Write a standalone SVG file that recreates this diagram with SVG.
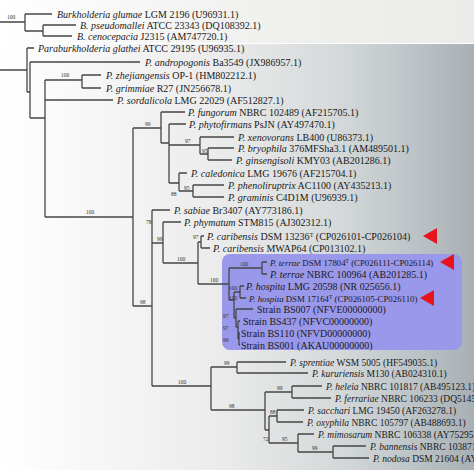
<svg xmlns="http://www.w3.org/2000/svg" width="474" height="474" viewBox="0 0 474 474">
<defs>
<linearGradient id="bgTop" x1="0" y1="0" x2="1" y2="0">
<stop offset="0" stop-color="#ffffff"/><stop offset="0.5" stop-color="#f1f1f0"/><stop offset="1" stop-color="#ebebea"/>
</linearGradient>
<linearGradient id="bgMain" x1="0" y1="0" x2="1" y2="0">
<stop offset="0" stop-color="#ffffff"/><stop offset="0.45" stop-color="#ececec"/><stop offset="0.7" stop-color="#d6dadb"/><stop offset="0.85" stop-color="#c0c7ca"/><stop offset="1" stop-color="#a8b0b5"/>
</linearGradient>
<style>
.t{font-family:"Liberation Serif","Times New Roman",serif;font-size:10px;fill:#1a1a1a}
.s{font-size:8.8px}
.l{font-size:9.5px}
.i{font-style:italic}
.b{font-family:"Liberation Serif","Times New Roman",serif;font-size:5.5px;fill:#333}
.e{fill:none;stroke:#454545;stroke-width:1.3}
.m{fill:#e8141c}
</style>
</defs>
<rect x="0" y="0" width="474" height="43" fill="url(#bgTop)"/>
<rect x="0" y="44" width="474" height="426" fill="url(#bgMain)"/>
<rect x="222" y="254" width="240" height="96" rx="8" fill="#9a98ea"/>
<g id="connectors" class="e">
<path d="M0 22H25M25 14V31M25 14H52M25 31H43M43 25V36M43 25H76M43 36H72"/>
<path d="M0 70H27M27 48V92M27 48H34M27 92H30M30 62V118M30 62H140M30 118H45M45 80V217M45 80H82M82 75V88M82 75H101M82 88H101M45 100H113M45 217H133"/>
<path d="M133 128V306M133 128H161M161 112V143M161 112H185M161 143H169M169 124V183M169 124H186M169 145H200M200 137V154M200 137H234M200 154H208M208 148V160M208 148H234M208 160H232M169 183H179M179 173V191M179 173H187M179 191H193M193 185V197M193 185H224M193 197H224"/>
<path d="M133 306H152M152 210V386M152 210H170M152 243H163M163 222V263M163 222H181M163 263H198M198 242V284M198 242H201M201 236V248M201 236H204M201 248H210"/>
<path d="M198 284H229M229 268V300M229 268H262M262 262V274M262 262H267M262 274H267M229 300H234M234 292V318M234 292H240M240 286V298M240 286H244M240 298H246M234 318H236M236 309V327M236 309H253M236 327H238M238 321V339M238 321H240M238 339H239M239 333V345M239 333H240M239 345H240"/>
<path d="M152 386H211M211 367V410M211 367H237M237 362V373M237 362H286M237 373H308M211 410H265M265 392V430M265 392H292M292 386V398M292 386H322M292 398H331M265 430H269M269 416V443M269 416H277M277 410V422M277 410H304M277 422H303M269 443H298M298 434V452M298 434H314M298 452H333M333 446V458M333 446H366M333 458H369"/>
</g>
<g id="bootstrap">
<text class="b" x="7" y="19">100</text>
<text class="b" x="61" y="77">100</text>
<text class="b" x="86" y="214">100</text>
<text class="b" x="145" y="126">99</text>
<text class="b" x="185" y="143">97</text>
<text class="b" x="202" y="153">95</text>
<text class="b" x="171" y="196">88</text>
<text class="b" x="184" y="190">95</text>
<text class="b" x="146" y="224">78</text>
<text class="b" x="157" y="241">99</text>
<text class="b" x="193" y="239">97</text>
<text class="b" x="177" y="261">100</text>
<text class="b" x="210" y="282">100</text>
<text class="b" x="240" y="266">100</text>
<text class="b" x="229" y="290">100</text>
<text class="b" x="229" y="300">100</text>
<text class="b" x="223" y="318">97</text>
<text class="b" x="223" y="330">97</text>
<text class="b" x="223" y="342">99</text>
<text class="b" x="140" y="304">98</text>
<text class="b" x="178" y="384">100</text>
<text class="b" x="224" y="365">99</text>
<text class="b" x="229" y="408">98</text>
<text class="b" x="277" y="390">99</text>
<text class="b" x="270" y="414">88</text>
<text class="b" x="263" y="441">72</text>
<text class="b" x="282" y="441">95</text>
<text class="b" x="312" y="450">99</text>
</g>
<g id="n1"><text class="t" x="57" y="17.5"><tspan class="i">Burkholderia glumae</tspan> LGM 2196 (U96931.1)</text></g>
<g id="n2"><text class="t" x="80" y="28.5"><tspan class="i">B. pseudomallei</tspan> ATCC 23343 (DQ108392.1)</text></g>
<g id="n3"><text class="t" x="77" y="39.5"><tspan class="i">B. cenocepacia</tspan> J2315 (AM747720.1)</text></g>
<g id="n4"><text class="t" x="38" y="51.5"><tspan class="i">Paraburkholderia glathei</tspan> ATCC 29195 (U96935.1)</text></g>
<g id="n5"><text class="t" x="145" y="65.5"><tspan class="i">P. andropogonis</tspan> Ba3549 (JX986957.1)</text></g>
<g id="n6"><text class="t" x="106" y="78.5"><tspan class="i">P. zhejiangensis</tspan> OP-1 (HM802212.1)</text></g>
<g id="n7"><text class="t" x="106" y="91.5"><tspan class="i">P. grimmiae</tspan> R27 (JN256678.1)</text></g>
<g id="n8"><text class="t" x="117" y="103.5"><tspan class="i">P. sordalicola</tspan> LMG 22029 (AF512827.1)</text></g>
<g id="n9"><text class="t" x="188" y="115.5"><tspan class="i">P. fungorum</tspan> NBRC 102489 (AF215705.1)</text></g>
<g id="n10"><text class="t" x="189" y="127.5"><tspan class="i">P. phytofirmans</tspan> PsJN (AY497470.1)</text></g>
<g id="n11"><text class="t" x="238" y="140.5"><tspan class="i">P. xenovorans</tspan> LB400 (U86373.1)</text></g>
<g id="n12"><text class="t" x="238" y="151.5"><tspan class="i">P. bryophila</tspan> 376MFSha3.1 (AM489501.1)</text></g>
<g id="n13"><text class="t" x="236" y="163.5"><tspan class="i">P. ginsengisoli</tspan> KMY03 (AB201286.1)</text></g>
<g id="n14"><text class="t" x="191" y="176.5"><tspan class="i">P. caledonica</tspan> LMG 19676 (AF215704.1)</text></g>
<g id="n15"><text class="t" x="228" y="188.5"><tspan class="i">P. phenoliruptrix</tspan> AC1100 (AY435213.1)</text></g>
<g id="n16"><text class="t" x="228" y="200.5"><tspan class="i">P. graminis</tspan> C4D1M (U96939.1)</text></g>
<g id="n17"><text class="t" x="174" y="213.5"><tspan class="i">P. sabiae</tspan> Br3407 (AY773186.1)</text></g>
<g id="n18"><text class="t" x="184" y="225.5"><tspan class="i">P. phymatum</tspan> STM815 (AJ302312.1)</text></g>
<g id="n19"><text class="t" x="207" y="239.5"><tspan class="i">P. caribensis</tspan> DSM 13236<tspan dy="-3" font-size="6">T</tspan><tspan dy="3"> (CP026101-CP026104)</tspan></text><polygon class="m" points="423,236 437,228 437,244"/></g>
<g id="n20"><text class="t" x="213" y="251.5"><tspan class="i">P. caribensis</tspan> MWAP64 (CP013102.1)</text></g>
<g id="n21"><text class="t s" x="270" y="265.5"><tspan class="i">P. terrae</tspan> DSM 17804<tspan dy="-3" font-size="5.5">T</tspan><tspan dy="3"> (CP026111-CP026114)</tspan></text><polygon class="m" points="440,262 454,254 454,270"/></g>
<g id="n22"><text class="t" x="270" y="277.5"><tspan class="i">P. terrae</tspan> NBRC 100964 (AB201285.1)</text></g>
<g id="n23"><text class="t" x="246" y="289.5"><tspan class="i">P. hospita</tspan> LMG 20598 (NR 025656.1)</text></g>
<g id="n24"><text class="t s" x="249" y="301.5"><tspan class="i">P. hospita</tspan> DSM 17164<tspan dy="-3" font-size="5.5">T</tspan><tspan dy="3"> (CP026105-CP026110)</tspan></text><polygon class="m" points="420,298 434,290 434,306"/></g>
<g id="n25"><text class="t" x="257" y="312.5">Strain BS007 (NFVE00000000)</text></g>
<g id="n26"><text class="t" x="243" y="324.5">Strain BS437 (NFVC00000000)</text></g>
<g id="n27"><text class="t" x="241" y="336.5">Strain BS110 (NFVD00000000)</text></g>
<g id="n28"><text class="t" x="241" y="348.5">Strain BS001 (AKAU00000000)</text></g>
<g id="n29"><text class="t l" x="290" y="365.5"><tspan class="i">P. sprentiae</tspan> WSM 5005 (HF549035.1)</text></g>
<g id="n30"><text class="t l" x="312" y="376.5"><tspan class="i">P. kururiensis</tspan> M130 (AB024310.1)</text></g>
<g id="n31"><text class="t l" x="326" y="389.5"><tspan class="i">P. heleia</tspan> NBRC 101817 (AB495123.1)</text></g>
<g id="n32"><text class="t l" x="335" y="401.5"><tspan class="i">P. ferrariae</tspan> NBRC 106233 (DQ514537</text></g>
<g id="n33"><text class="t l" x="308" y="413.5"><tspan class="i">P. sacchari</tspan> LMG 19450 (AF263278.1)</text></g>
<g id="n34"><text class="t l" x="307" y="425.5"><tspan class="i">P. oxyphila</tspan> NBRC 105797 (AB488693.1)</text></g>
<g id="n35"><text class="t l" x="318" y="437.5"><tspan class="i">P. mimosarum</tspan> NBRC 106338 (AY752958.1)</text></g>
<g id="n36"><text class="t l" x="370" y="449.5"><tspan class="i">P. bannensis</tspan> NBRC 103871 (A</text></g>
<g id="n37"><text class="t l" x="373" y="461.5"><tspan class="i">P. nodosa</tspan> DSM 21604 (AY77</text></g>
</svg>
